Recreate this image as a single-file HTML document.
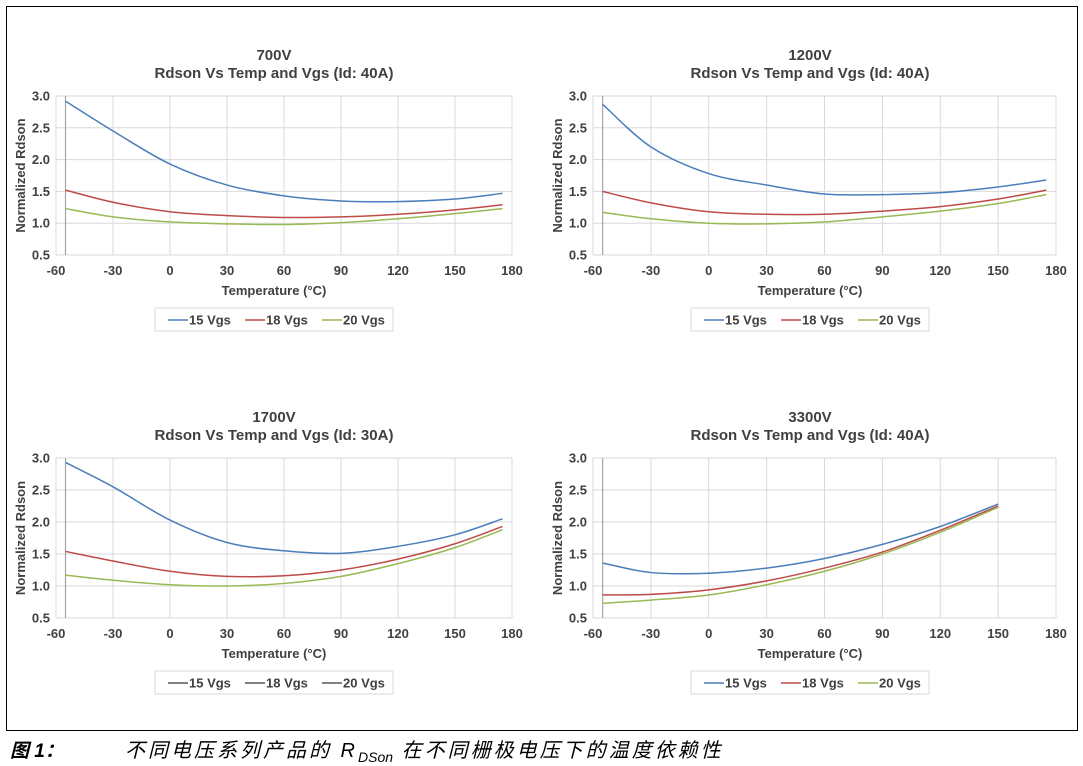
<!DOCTYPE html>
<html><head><meta charset="utf-8">
<style>
body{margin:0;background:#fff;width:1083px;height:766px;overflow:hidden;font-family:"Liberation Sans","Noto Sans CJK SC",sans-serif}
svg{position:absolute;left:0;top:0}
</style></head>
<body>
<svg id="fig" width="1083" height="766" xmlns="http://www.w3.org/2000/svg">
<rect x="6.5" y="6.5" width="1071" height="724" fill="#fff" stroke="#000" stroke-width="1"/>
<text x="10" y="757" font-size="19" font-weight="bold" font-style="italic" font-family="'Liberation Sans','Noto Sans CJK SC',sans-serif">图 1：</text>
<text x="125" y="757" font-size="20" letter-spacing="3" font-style="italic" font-family="'Liberation Sans','Noto Sans CJK SC',sans-serif">不同电压系列产品的 R<tspan font-size="14" dy="5" letter-spacing="0">DSon</tspan><tspan dy="-5"> 在不同栅极电压下的温度依赖性</tspan></text>
</svg>
<script>
const temps = [-55,-30,0,30,60,90,120,150,175];
const temps3300 = [-55,-30,0,30,60,90,120,150];
const v700_15 = [2.92,2.45,1.93,1.60,1.43,1.35,1.34,1.38,1.47];
const v700_18 = [1.52,1.33,1.18,1.12,1.09,1.10,1.14,1.21,1.29];
const v700_20 = [1.23,1.10,1.02,0.99,0.98,1.01,1.07,1.15,1.23];
const v1200_15 = [2.87,2.20,1.78,1.60,1.46,1.45,1.48,1.57,1.68];
const v1200_18 = [1.50,1.32,1.18,1.14,1.14,1.19,1.26,1.38,1.52];
const v1200_20 = [1.17,1.07,1.00,0.99,1.02,1.10,1.19,1.31,1.45];
const v1700_15 = [2.93,2.55,2.03,1.68,1.55,1.51,1.62,1.80,2.05];
const v1700_18 = [1.54,1.39,1.23,1.15,1.16,1.25,1.42,1.66,1.93];
const v1700_20 = [1.17,1.09,1.02,1.00,1.04,1.15,1.35,1.60,1.88];
const v3300_15 = [1.36,1.21,1.20,1.28,1.43,1.65,1.93,2.28];
const v3300_18 = [0.86,0.87,0.94,1.08,1.28,1.53,1.87,2.25];
const v3300_20 = [0.73,0.78,0.86,1.02,1.23,1.50,1.84,2.23];
const xTicks = [-60,-30,0,30,60,90,120,150,180];
const yTicks = [0.5,1.0,1.5,2.0,2.5,3.0];
const seriesNames = ["15 Vgs","18 Vgs","20 Vgs"];
const titles = [["700V","Rdson Vs Temp and Vgs (Id: 40A)"],["1200V","Rdson Vs Temp and Vgs (Id: 40A)"],["1700V","Rdson Vs Temp and Vgs (Id: 30A)"],["3300V","Rdson Vs Temp and Vgs (Id: 40A)"]];

const NS="http://www.w3.org/2000/svg";
const svg=document.getElementById('fig');
const colors=["#4a7ebb","#be4b48","#98b954"];
function mk(tag,attrs,parent){const e=document.createElementNS(NS,tag);for(const k in attrs)e.setAttribute(k,attrs[k]);(parent||svg).appendChild(e);return e;}
function txt(s,attrs,parent){const e=mk('text',attrs,parent);e.textContent=s;return e;}

function chart(idx,x0,x1,y0,y1,xs,data,legendGray,lcx){
  const g=mk('g',{});
  
  
  const sx=v=>x0+(v-(-60))/240*(x1-x0);
  const sy=v=>y1-(v-0.5)/2.5*(y1-y0);
  const cx=lcx;
  const t1=txt(titles[idx][0],{x:cx,y:y0-36,'text-anchor':'middle','font-size':15,'font-weight':'bold',fill:'#404040'},g);
  
  
  const t2=txt(titles[idx][1],{x:cx,y:y0-18,'text-anchor':'middle','font-size':15,'font-weight':'bold',fill:'#404040'},g);
  
  
  yTicks.forEach(v=>{
    const l=mk('line',{x1:x0,x2:x1,y1:sy(v),y2:sy(v),stroke:'#d9d9d9','stroke-width':1},g);
    
    
    const t=txt(v.toFixed(1),{x:x0-6,y:sy(v)+4.5,'text-anchor':'end','font-size':13,'font-weight':'bold',fill:'#404040'},g);
    
    
  });
  xTicks.forEach(v=>{
    const l=mk('line',{x1:sx(v),x2:sx(v),y1:y0,y2:y1,stroke:'#d9d9d9','stroke-width':1},g);
    
    
    const t=txt(String(v),{x:sx(v),y:y1+20,'text-anchor':'middle','font-size':13,'font-weight':'bold',fill:'#404040'},g);
    
    
  });
  const ax=mk('line',{x1:sx(-55),x2:sx(-55),y1:y0,y2:y1,stroke:'#a6a6a6','stroke-width':1.2},g);
  
  
  const xt=txt('Temperature (°C)',{x:cx,y:y1+40,'text-anchor':'middle','font-size':13,'font-weight':'bold',fill:'#404040'},g);
  
  
  const yx=x0-31, yy=(y0+y1)/2;
  const yt=txt('Normalized Rdson',{x:yx,y:yy,'text-anchor':'middle','font-size':13,'font-weight':'bold',fill:'#404040',transform:`rotate(-90 ${yx} ${yy})`},g);
  
  
  data.forEach((vals,si)=>{
    const pts=xs.map((t,i)=>[sx(t),sy(vals[i])]);
    let d=`M${pts[0][0]},${pts[0][1]}`;
    for(let i=0;i<pts.length-1;i++){
      const p0=pts[Math.max(0,i-1)],p1=pts[i],p2=pts[i+1],p3=pts[Math.min(pts.length-1,i+2)];
      const c1=[p1[0]+(p2[0]-p0[0])/6,p1[1]+(p2[1]-p0[1])/6];
      const c2=[p2[0]-(p3[0]-p1[0])/6,p2[1]-(p3[1]-p1[1])/6];
      d+=` C${c1[0]},${c1[1]} ${c2[0]},${c2[1]} ${p2[0]},${p2[1]}`;
    }
    const p=mk('path',{d:d,fill:'none',stroke:colors[si],'stroke-width':1.5},g);
    
    
  });
  const lx=cx-119, ly=y1+53;
  const lb=mk('rect',{x:lx,y:ly,width:238,height:23,fill:'#fff',stroke:'#d9d9d9'},g);
  
  
  seriesNames.forEach((n,i)=>{
    const ex=lx+13+i*77;
    const ll=mk('line',{x1:ex,x2:ex+20,y1:ly+12,y2:ly+12,stroke:legendGray?'#595959':colors[i],'stroke-width':1.5},g);
    
    
    const lt=txt(n,{x:ex+21,y:ly+16.5,'font-size':13,'font-weight':'bold',fill:'#404040'},g);
    
    
  });
}
chart(0,56,512,96,255,temps,[v700_15,v700_18,v700_20],false,274);
chart(1,593,1056,96,255,temps,[v1200_15,v1200_18,v1200_20],false,810);
chart(2,56,512,458,618,temps,[v1700_15,v1700_18,v1700_20],true,274);
chart(3,593,1056,458,618,temps3300,[v3300_15,v3300_18,v3300_20],false,810);
</script>
</body></html>
